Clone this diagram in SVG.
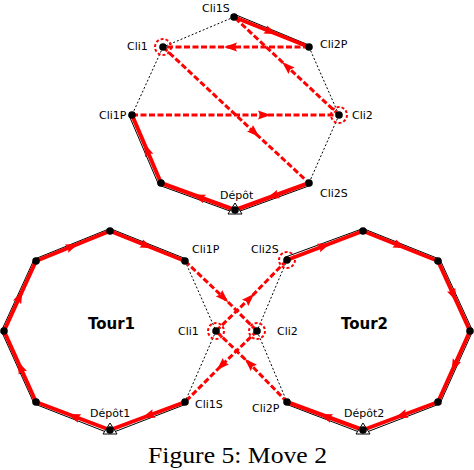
<svg xmlns="http://www.w3.org/2000/svg" width="474" height="470" viewBox="0 0 474 470">
<style>
.bl{fill:none;stroke:#000;stroke-width:1}
.dot{fill:none;stroke:#000;stroke-width:1;stroke-dasharray:2 2}
.rs{fill:none;stroke:#f00;stroke-width:4;stroke-linejoin:round;marker-mid:url(#ar)}
.rd{fill:none;stroke:#f00;stroke-width:3;stroke-dasharray:6 2.5;marker-mid:url(#ar)}
.ring{fill:none;stroke:#f00;stroke-width:2;stroke-dasharray:3 2}
.nd{fill:#000}
.lb{font-family:"DejaVu Sans",Verdana,sans-serif;font-size:11px;fill:#000}
.tr{font-family:"DejaVu Sans",Verdana,sans-serif;font-size:15px;font-weight:bold;fill:#000}
.cap{font-family:"Liberation Serif","Times New Roman",serif;font-size:24px;fill:#000}
.dep{fill:#fff;stroke:#000;stroke-width:1}
</style>
<defs>
<marker id="ar" markerUnits="userSpaceOnUse" markerWidth="14" markerHeight="10" refX="7" refY="5" orient="auto" viewBox="0 0 14 10">
<path d="M0,0.5 L13,5 L0,9.5 L2,5 Z" fill="#f00"/>
</marker>
</defs>

<g id="connectors">
<polyline class="bl" points="234,14.1 311.2,46"/>
<polyline class="bl" points="128.9,115 158.8,185.1 235,212.9 311.2,185.1"/>
<line class="dot" x1="234" y1="17" x2="163" y2="47"/>
<line class="dot" x1="163" y1="47" x2="132" y2="115"/>
<line class="dot" x1="309" y1="47" x2="339" y2="115"/>
<line class="dot" x1="339" y1="115" x2="309" y2="183"/>
<path class="rs" d="M235,210 L198,196.5 L161,183"/>
<path class="rs" d="M161,183 L146.5,149 L132,115"/>
<path class="rs" d="M234,17 L271.5,32 L309,47"/>
<path class="rs" d="M309,183 L272,196.5 L235,210"/>
<path class="rd" d="M132,115 L265,115 L339,115"/>
<path class="rd" d="M339,115 L286.5,66 L234,17"/>
<path class="rd" d="M309,47 L230,47 L163,47"/>
<path class="rd" d="M163,47 L255,133 L309,183"/>

<polyline class="bl" points="186.9,403.8 110,433.5 34.15,403.8 1.35,331 34.15,259.25 110,228.5 186.9,259.25"/>
<polyline class="bl" points="285.1,257.2 363,228.5 439.9,259.25 472.7,331 439.9,403.8 363,433.5 285.1,403.8"/>
<line class="dot" x1="185" y1="261" x2="216" y2="331"/>
<line class="dot" x1="216" y1="331" x2="185" y2="402"/>
<line class="dot" x1="287" y1="260" x2="257" y2="331"/>
<line class="dot" x1="257" y1="331" x2="287" y2="402"/>
<path class="rs" d="M110,430 L73,416 L36,402"/>
<path class="rs" d="M36,402 L20,366.5 L4,331"/>
<path class="rs" d="M4,331 L20,296 L36,261"/>
<path class="rs" d="M36,261 L73,246 L110,231"/>
<path class="rs" d="M110,231 L147.5,246 L185,261"/>
<path class="rs" d="M185,402 L147.5,416 L110,430"/>
<path class="rs" d="M287,260 L325,245.5 L363,231"/>
<path class="rs" d="M363,231 L400.5,246 L438,261"/>
<path class="rs" d="M438,261 L454,296 L470,331"/>
<path class="rs" d="M470,331 L454,366.5 L438,402"/>
<path class="rs" d="M438,402 L400.5,416 L363,430"/>
<path class="rs" d="M363,430 L325,416 L287,402"/>
<path class="rd" d="M185,261 L224,298 L257,331"/>
<path class="rd" d="M257,331 L221,366 L185,402"/>
<path class="rd" d="M287,402 L249,363 L216,331"/>
<path class="rd" d="M216,331 L250,298 L287,260"/>
</g>

<g id="top-Cli1S"><circle class="nd" cx="234" cy="17" r="3.8"/><text class="lb" x="202" y="12">Cli1S</text></g>
<g id="top-Cli2P"><circle class="nd" cx="309" cy="47" r="3.8"/><text class="lb" x="320" y="48">Cli2P</text></g>
<g id="top-Cli1"><circle class="nd" cx="163" cy="47" r="3.8"/><circle class="ring" cx="163" cy="47" r="8"/><text class="lb" x="127" y="50">Cli1</text></g>
<g id="top-Cli1P"><circle class="nd" cx="132" cy="115" r="3.8"/><text class="lb" x="99" y="119">Cli1P</text></g>
<g id="top-Cli2"><circle class="nd" cx="339" cy="115" r="3.8"/><circle class="ring" cx="339" cy="115" r="8"/><text class="lb" x="352" y="119">Cli2</text></g>
<g id="top-BL"><circle class="nd" cx="161" cy="183" r="3.8"/></g>
<g id="top-Cli2S"><circle class="nd" cx="309" cy="183" r="3.8"/><text class="lb" x="320" y="197">Cli2S</text></g>
<g id="top-Depot"><path class="dep" d="M235,203 L228,214 L242,214 Z"/><circle class="nd" cx="235" cy="210" r="3.8"/><text class="lb" x="220" y="199">Dépôt</text></g>

<g id="t1-top"><circle class="nd" cx="110" cy="231" r="3.8"/></g>
<g id="t1-ul"><circle class="nd" cx="36" cy="261" r="3.8"/></g>
<g id="t1-l"><circle class="nd" cx="4" cy="331" r="3.8"/></g>
<g id="t1-ll"><circle class="nd" cx="36" cy="402" r="3.8"/></g>
<g id="t1-Cli1P"><circle class="nd" cx="185" cy="261" r="3.8"/><text class="lb" x="192" y="253">Cli1P</text></g>
<g id="t1-Cli1"><circle class="nd" cx="216" cy="331" r="3.8"/><circle class="ring" cx="216" cy="331" r="8"/><text class="lb" x="178" y="335">Cli1</text></g>
<g id="t1-Cli1S"><circle class="nd" cx="185" cy="402" r="3.8"/><text class="lb" x="195" y="408">Cli1S</text></g>
<g id="t1-Depot1"><path class="dep" d="M110,423 L103,434 L117,434 Z"/><circle class="nd" cx="110" cy="430" r="3.8"/><text class="lb" x="90" y="417">Dépôt1</text></g>
<g id="Tour1"><text class="tr" x="88" y="329">Tour1</text></g>

<g id="t2-top"><circle class="nd" cx="363" cy="231" r="3.8"/></g>
<g id="t2-ur"><circle class="nd" cx="438" cy="261" r="3.8"/></g>
<g id="t2-r"><circle class="nd" cx="470" cy="331" r="3.8"/></g>
<g id="t2-lr"><circle class="nd" cx="438" cy="402" r="3.8"/></g>
<g id="t2-Cli2S"><circle class="nd" cx="287" cy="260" r="3.8"/><circle class="ring" cx="287" cy="260" r="8"/><text class="lb" x="251" y="253">Cli2S</text></g>
<g id="t2-Cli2"><circle class="nd" cx="257" cy="331" r="3.8"/><circle class="ring" cx="257" cy="331" r="8"/><text class="lb" x="277" y="335">Cli2</text></g>
<g id="t2-Cli2P"><circle class="nd" cx="287" cy="402" r="3.8"/><text class="lb" x="252" y="412">Cli2P</text></g>
<g id="t2-Depot2"><path class="dep" d="M363,423 L356,434 L370,434 Z"/><circle class="nd" cx="363" cy="430" r="3.8"/><text class="lb" x="344" y="417">Dépôt2</text></g>
<g id="Tour2"><text class="tr" x="341" y="329">Tour2</text></g>

<text class="cap" x="148" y="463" textLength="179" lengthAdjust="spacingAndGlyphs">Figure 5: Move 2</text>
</svg>
